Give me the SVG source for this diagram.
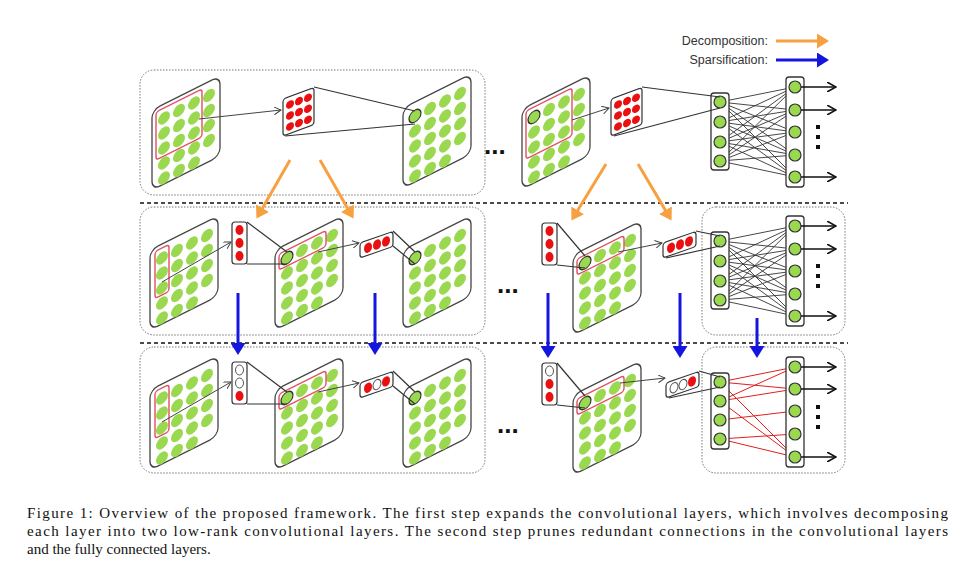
<svg xmlns="http://www.w3.org/2000/svg" xmlns:xlink="http://www.w3.org/1999/xlink" width="976" height="572" viewBox="0 0 976 572">
<style>
.pl{fill:#fff;stroke:#444;stroke-width:1.3}
.g{fill:#9ad94f}
.r{fill:#e81010}
.w{fill:#fff;stroke:#555;stroke-width:1}
.k{fill:#fff;stroke:#333;stroke-width:1.2}
.ln{stroke:#333;stroke-width:1.2;fill:none}
.ar{stroke:#444;stroke-width:1;fill:none;marker-end:url(#sa)}
.rr{fill:none;stroke:#e05060;stroke-width:1.4}
.hl{fill:#9ad94f;stroke:#333;stroke-width:1.2}
.box{fill:none;stroke:#777;stroke-width:1;stroke-dasharray:1.5 1.5}
.dash{stroke:#111;stroke-width:1.3;stroke-dasharray:4 3}
.org{stroke:#f7a040;stroke-width:3;marker-end:url(#oa)}
.blu{stroke:#1515e0;stroke-width:3;marker-end:url(#ba)}
.fc{stroke:#333;stroke-width:0.9}
.fr{stroke:#e02020;stroke-width:1}
.out{stroke:#111;stroke-width:1.6;marker-end:url(#oh)}
.col{fill:#fff;stroke:#333;stroke-width:1.3}
.cap{font-family:"Liberation Serif",serif;font-size:15px;fill:#111}
.leg{font-family:"Liberation Sans",sans-serif;font-size:12.5px;fill:#333}
.dots{font-family:"Liberation Sans",sans-serif;font-size:26px;font-weight:bold;fill:#111}
</style>
<defs>
<marker id="sa" markerWidth="8" markerHeight="8" refX="7" refY="4" orient="auto" markerUnits="userSpaceOnUse"><path d="M0,0 L7,4 L0,8" fill="none" stroke="#444"/></marker>
<marker id="oa" markerWidth="5" markerHeight="5" refX="3" refY="2.5" orient="auto"><path d="M0,0 L4,2.5 L0,5 Z" fill="#f7a040"/></marker>
<marker id="ba" markerWidth="5" markerHeight="5" refX="3" refY="2.5" orient="auto"><path d="M0,0 L4,2.5 L0,5 Z" fill="#1515e0"/></marker>
<marker id="oh" markerWidth="10" markerHeight="10" refX="9" refY="5" orient="auto" markerUnits="userSpaceOnUse"><path d="M0,0 L9,5 L0,10" fill="none" stroke="#111" stroke-width="1.6"/></marker>
<g id="plane">
<rect class="pl" x="0" y="0" width="68" height="80" rx="8"/>
<g class="g">
<circle cx="12" cy="14" r="6"/><circle cx="27" cy="14" r="6"/><circle cx="42" cy="14" r="6"/><circle cx="57" cy="14" r="6"/>
<circle cx="12" cy="29" r="6"/><circle cx="27" cy="29" r="6"/><circle cx="42" cy="29" r="6"/><circle cx="57" cy="29" r="6"/>
<circle cx="12" cy="44" r="6"/><circle cx="27" cy="44" r="6"/><circle cx="42" cy="44" r="6"/><circle cx="57" cy="44" r="6"/>
<circle cx="12" cy="59" r="6"/><circle cx="27" cy="59" r="6"/><circle cx="42" cy="59" r="6"/><circle cx="57" cy="59" r="6"/>
<circle cx="12" cy="74" r="6"/><circle cx="27" cy="74" r="6"/><circle cx="42" cy="74" r="6"/>
</g>
</g>
<g id="k33">
<rect class="k" x="0" y="0" width="31" height="37" rx="3"/>
<g class="r"><circle cx="7" cy="8" r="4"/><circle cx="16" cy="8" r="4"/><circle cx="25" cy="8" r="4"/>
<circle cx="7" cy="19" r="4"/><circle cx="16" cy="19" r="4"/><circle cx="25" cy="19" r="4"/>
<circle cx="7" cy="30" r="4"/><circle cx="16" cy="30" r="4"/><circle cx="25" cy="30" r="4"/></g>
</g>
</defs>

<g id="legend">
<text class="leg" x="768" y="45" text-anchor="end">Decomposition:</text>
<line class="org" x1="776" y1="41" x2="826" y2="41"/>
<text class="leg" x="768" y="64" text-anchor="end">Sparsification:</text>
<line class="blu" x1="776" y1="60" x2="826" y2="60"/>
</g>

<g id="frames">
<rect class="box" x="140" y="70" width="345" height="125" rx="14"/>
<rect class="box" x="140" y="207" width="345" height="128" rx="14"/>
<rect class="box" x="702" y="207" width="143" height="128" rx="14"/>
<rect class="box" x="140" y="347" width="345" height="126" rx="14"/>
<rect class="box" x="702" y="347" width="143" height="126" rx="14"/>
<line class="dash" x1="140" y1="203" x2="848" y2="203"/>
<line class="dash" x1="140" y1="343" x2="848" y2="343"/>
</g>

<g id="top-plane1"><g transform="matrix(1,-0.5,0,1,152,110)"><use href="#plane"/><rect class="rr" x="4" y="4" width="46" height="48" rx="3"/></g></g>
<g id="top-kernel"><g transform="matrix(1,-0.37,0,1,283,99)"><use href="#k33"/></g></g>
<g id="top-plane2"><g transform="matrix(1,-0.5,0,1,403,108)"><use href="#plane"/><circle class="hl" cx="12" cy="14" r="6"/></g></g>
<g id="top-plane3"><g transform="matrix(1,-0.5,0,1,522,109)"><use href="#plane"/><rect class="rr" x="4" y="4" width="46" height="48" rx="3"/><circle class="hl" cx="12" cy="14" r="6"/></g></g>
<g id="top-kernel2"><g transform="matrix(1,-0.37,0,1,611,99)"><use href="#k33"/></g></g>
<g id="top-fc">
<g class="fc">
<line x1="720" y1="102" x2="795" y2="87"/><line x1="720" y1="102" x2="795" y2="110"/><line x1="720" y1="102" x2="795" y2="132"/><line x1="720" y1="102" x2="795" y2="155"/><line x1="720" y1="102" x2="795" y2="177"/>
<line x1="720" y1="122" x2="795" y2="87"/><line x1="720" y1="122" x2="795" y2="110"/><line x1="720" y1="122" x2="795" y2="132"/><line x1="720" y1="122" x2="795" y2="155"/><line x1="720" y1="122" x2="795" y2="177"/>
<line x1="720" y1="142" x2="795" y2="87"/><line x1="720" y1="142" x2="795" y2="110"/><line x1="720" y1="142" x2="795" y2="132"/><line x1="720" y1="142" x2="795" y2="155"/><line x1="720" y1="142" x2="795" y2="177"/>
<line x1="720" y1="161" x2="795" y2="87"/><line x1="720" y1="161" x2="795" y2="110"/><line x1="720" y1="161" x2="795" y2="132"/><line x1="720" y1="161" x2="795" y2="155"/><line x1="720" y1="161" x2="795" y2="177"/>
</g>
<rect class="col" x="711" y="93" width="18" height="77" rx="3"/>
<g class="hl"><circle cx="720" cy="102" r="6"/><circle cx="720" cy="122" r="6"/><circle cx="720" cy="142" r="6"/><circle cx="720" cy="161" r="6"/></g>
<rect class="col" x="786" y="77" width="18" height="110" rx="3"/>
<g class="hl"><circle cx="795" cy="87" r="6"/><circle cx="795" cy="110" r="6"/><circle cx="795" cy="132" r="6"/><circle cx="795" cy="155" r="6"/><circle cx="795" cy="177" r="6"/></g>
</g>

<g id="mid-plane1"><g transform="matrix(1,-0.5,0,1,150,250)"><use href="#plane"/><rect class="rr" x="5" y="4" width="14" height="47" rx="3"/></g></g>
<g id="mid-k1"><rect class="k" x="232" y="222" width="15" height="42" rx="3"/><g class="r"><ellipse cx="239.5" cy="230" rx="4" ry="5"/><ellipse cx="239.5" cy="243" rx="4" ry="5"/><ellipse cx="239.5" cy="256" rx="4" ry="5"/></g></g>
<g id="mid-plane2"><g transform="matrix(1,-0.5,0,1,275,250)"><use href="#plane"/><rect class="rr" x="4" y="6" width="47" height="16" rx="3"/><circle class="hl" cx="12" cy="14" r="6"/></g></g>
<g id="mid-k2"><g transform="matrix(1,-0.35,0,1,360,243)"><rect class="k" x="0" y="0" width="33" height="15" rx="3"/><g class="r"><ellipse cx="8" cy="7.5" rx="4" ry="5"/><ellipse cx="17" cy="7.5" rx="4" ry="5"/><ellipse cx="26" cy="7.5" rx="4" ry="5"/></g></g></g>
<g id="mid-plane3"><g transform="matrix(1,-0.5,0,1,403,250)"><use href="#plane"/><circle class="hl" cx="12" cy="14" r="6"/></g></g>
<g id="mid-k3"><rect class="k" x="542" y="223" width="15" height="42" rx="3"/><g class="r"><ellipse cx="549.5" cy="231" rx="4" ry="5"/><ellipse cx="549.5" cy="244" rx="4" ry="5"/><ellipse cx="549.5" cy="257" rx="4" ry="5"/></g></g>
<g id="mid-plane4"><g transform="matrix(1,-0.5,0,1,573,255)"><use href="#plane"/><rect class="rr" x="4" y="6" width="47" height="16" rx="3"/><circle class="hl" cx="12" cy="14" r="6"/></g></g>
<g id="mid-k4"><g transform="matrix(1,-0.35,0,1,663,243)"><rect class="k" x="0" y="0" width="33" height="15" rx="3"/><g class="r"><ellipse cx="8" cy="7.5" rx="4" ry="5"/><ellipse cx="17" cy="7.5" rx="4" ry="5"/><ellipse cx="26" cy="7.5" rx="4" ry="5"/></g></g></g>
<g id="mid-fc">
<g class="fc">
<line x1="720" y1="241" x2="795" y2="226"/><line x1="720" y1="241" x2="795" y2="249"/><line x1="720" y1="241" x2="795" y2="271"/><line x1="720" y1="241" x2="795" y2="294"/><line x1="720" y1="241" x2="795" y2="316"/>
<line x1="720" y1="261" x2="795" y2="226"/><line x1="720" y1="261" x2="795" y2="249"/><line x1="720" y1="261" x2="795" y2="271"/><line x1="720" y1="261" x2="795" y2="294"/><line x1="720" y1="261" x2="795" y2="316"/>
<line x1="720" y1="281" x2="795" y2="226"/><line x1="720" y1="281" x2="795" y2="249"/><line x1="720" y1="281" x2="795" y2="271"/><line x1="720" y1="281" x2="795" y2="294"/><line x1="720" y1="281" x2="795" y2="316"/>
<line x1="720" y1="300" x2="795" y2="226"/><line x1="720" y1="300" x2="795" y2="249"/><line x1="720" y1="300" x2="795" y2="271"/><line x1="720" y1="300" x2="795" y2="294"/><line x1="720" y1="300" x2="795" y2="316"/>
</g>
<rect class="col" x="711" y="232" width="18" height="77" rx="3"/>
<g class="hl"><circle cx="720" cy="241" r="6"/><circle cx="720" cy="261" r="6"/><circle cx="720" cy="281" r="6"/><circle cx="720" cy="300" r="6"/></g>
<rect class="col" x="786" y="216" width="18" height="110" rx="3"/>
<g class="hl"><circle cx="795" cy="226" r="6"/><circle cx="795" cy="249" r="6"/><circle cx="795" cy="271" r="6"/><circle cx="795" cy="294" r="6"/><circle cx="795" cy="316" r="6"/></g>
</g>

<g id="bot-plane1"><g transform="matrix(1,-0.5,0,1,150,390)"><use href="#plane"/><rect class="rr" x="5" y="4" width="14" height="47" rx="3"/></g></g>
<g id="bot-k1"><rect class="k" x="232" y="362" width="15" height="42" rx="3"/><ellipse class="w" cx="239.5" cy="370" rx="4" ry="5"/><ellipse class="w" cx="239.5" cy="383" rx="4" ry="5"/><ellipse class="r" cx="239.5" cy="396" rx="4" ry="5"/></g>
<g id="bot-plane2"><g transform="matrix(1,-0.5,0,1,275,390)"><use href="#plane"/><rect class="rr" x="4" y="6" width="47" height="16" rx="3"/><circle class="hl" cx="12" cy="14" r="6"/></g></g>
<g id="bot-k2"><g transform="matrix(1,-0.35,0,1,360,383)"><rect class="k" x="0" y="0" width="33" height="15" rx="3"/><ellipse class="r" cx="8" cy="7.5" rx="4" ry="5"/><ellipse class="w" cx="17" cy="7.5" rx="4" ry="5"/><ellipse class="r" cx="26" cy="7.5" rx="4" ry="5"/></g></g>
<g id="bot-plane3"><g transform="matrix(1,-0.5,0,1,403,390)"><use href="#plane"/><circle class="hl" cx="12" cy="14" r="6"/></g></g>
<g id="bot-k3"><rect class="k" x="542" y="363" width="15" height="42" rx="3"/><ellipse class="w" cx="549.5" cy="371" rx="4" ry="5"/><ellipse class="r" cx="549.5" cy="384" rx="4" ry="5"/><ellipse class="r" cx="549.5" cy="397" rx="4" ry="5"/></g>
<g id="bot-plane4"><g transform="matrix(1,-0.5,0,1,573,395)"><use href="#plane"/><rect class="rr" x="4" y="6" width="47" height="16" rx="3"/><circle class="hl" cx="12" cy="14" r="6"/></g></g>
<g id="bot-k4"><g transform="matrix(1,-0.35,0,1,666,383)"><rect class="k" x="0" y="0" width="33" height="15" rx="3"/><ellipse class="w" cx="8" cy="7.5" rx="4" ry="5"/><ellipse class="w" cx="17" cy="7.5" rx="4" ry="5"/><ellipse class="r" cx="26" cy="7.5" rx="4" ry="5"/></g></g>
<g id="bot-fc">
<g class="fr">
<line x1="720" y1="382" x2="795" y2="367"/><line x1="720" y1="382" x2="795" y2="389"/><line x1="720" y1="382" x2="795" y2="457"/>
<line x1="720" y1="401" x2="795" y2="389"/><line x1="720" y1="401" x2="795" y2="367"/><line x1="720" y1="401" x2="795" y2="457"/>
<line x1="720" y1="420" x2="795" y2="411"/><line x1="720" y1="439" x2="795" y2="434"/><line x1="720" y1="439" x2="795" y2="457"/>
</g>
<rect class="col" x="711" y="373" width="18" height="76" rx="3"/>
<g class="hl"><circle cx="720" cy="382" r="6"/><circle cx="720" cy="401" r="6"/><circle cx="720" cy="420" r="6"/><circle cx="720" cy="439" r="6"/></g>
<rect class="col" x="786" y="357" width="18" height="110" rx="3"/>
<g class="hl"><circle cx="795" cy="367" r="6"/><circle cx="795" cy="389" r="6"/><circle cx="795" cy="411" r="6"/><circle cx="795" cy="434" r="6"/><circle cx="795" cy="457" r="6"/></g>
</g>

<g id="connectors">
<line class="ar" x1="199" y1="119" x2="281" y2="110"/>
<line class="ln" x1="314" y1="87" x2="415" y2="111"/>
<line class="ln" x1="285" y1="136" x2="415" y2="124"/>
<line class="ar" x1="572" y1="120" x2="609" y2="108"/>
<line class="ln" x1="642" y1="87" x2="720" y2="97"/>
<line class="ln" x1="614" y1="136" x2="720" y2="108"/>
<line class="out" x1="801" y1="87" x2="836" y2="87"/><line class="out" x1="801" y1="110" x2="836" y2="110"/><line class="out" x1="801" y1="177" x2="836" y2="177"/>

<line class="ar" x1="162" y1="282" x2="231" y2="242"/>
<line class="ln" x1="247" y1="222" x2="287" y2="252"/>
<line class="ln" x1="247" y1="264" x2="287" y2="264"/>
<line class="ar" x1="318" y1="252" x2="359" y2="243"/>
<line class="ln" x1="393" y1="231" x2="415" y2="252"/>
<line class="ln" x1="393" y1="246" x2="415" y2="264"/>
<line class="ln" x1="557" y1="223" x2="585" y2="256"/>
<line class="ln" x1="557" y1="265" x2="585" y2="268"/>
<line class="ar" x1="618" y1="252" x2="662" y2="243"/>
<line class="ln" x1="696" y1="231" x2="720" y2="236"/>
<line class="ln" x1="666" y1="258" x2="720" y2="246"/>
<line class="out" x1="801" y1="226" x2="836" y2="226"/><line class="out" x1="801" y1="249" x2="836" y2="249"/><line class="out" x1="801" y1="316" x2="836" y2="316"/>

<line class="ar" x1="162" y1="422" x2="231" y2="382"/>
<line class="ln" x1="247" y1="362" x2="287" y2="392"/>
<line class="ln" x1="247" y1="404" x2="287" y2="404"/>
<line class="ar" x1="318" y1="392" x2="359" y2="383"/>
<line class="ln" x1="393" y1="371" x2="415" y2="392"/>
<line class="ln" x1="393" y1="386" x2="415" y2="404"/>
<line class="ln" x1="557" y1="363" x2="585" y2="396"/>
<line class="ln" x1="557" y1="405" x2="585" y2="408"/>
<line class="ar" x1="620" y1="383" x2="665" y2="378"/>
<line class="ln" x1="699" y1="371" x2="720" y2="377"/>
<line class="ln" x1="669" y1="398" x2="720" y2="387"/>
<line class="out" x1="801" y1="367" x2="836" y2="367"/><line class="out" x1="801" y1="389" x2="836" y2="389"/><line class="out" x1="801" y1="457" x2="836" y2="457"/>

<line class="org" x1="290" y1="160" x2="258" y2="216"/>
<line class="org" x1="320" y1="160" x2="352" y2="216"/>
<line class="org" x1="606" y1="164" x2="573" y2="218"/>
<line class="org" x1="638" y1="164" x2="670" y2="218"/>
<line class="blu" x1="238" y1="293" x2="238" y2="352"/>
<line class="blu" x1="375" y1="293" x2="375" y2="352"/>
<line class="blu" x1="548" y1="293" x2="548" y2="355"/>
<line class="blu" x1="680" y1="293" x2="680" y2="355"/>
<line class="blu" x1="757" y1="318" x2="757" y2="355"/>
</g>

<g id="ellipses">
<text class="dots" x="484" y="154">...</text>
<text class="dots" x="497" y="293">...</text>
<text class="dots" x="497" y="433">...</text>
<g fill="#111"><rect x="816" y="125" width="4" height="4"/><rect x="816" y="135" width="4" height="4"/><rect x="816" y="145" width="4" height="4"/>
<rect x="816" y="264" width="4" height="4"/><rect x="816" y="274" width="4" height="4"/><rect x="816" y="284" width="4" height="4"/>
<rect x="816" y="405" width="4" height="4"/><rect x="816" y="415" width="4" height="4"/><rect x="816" y="425" width="4" height="4"/></g>
</g>

<g id="caption">
<text class="cap" x="27" y="518" textLength="921" lengthAdjust="spacing">Figure 1: Overview of the proposed framework. The first step expands the convolutional layers, which involves decomposing</text>
<text class="cap" x="27" y="536" textLength="921" lengthAdjust="spacing">each layer into two low-rank convolutional layers. The second step prunes redundant connections in the convolutional layers</text>
<text class="cap" x="27" y="554">and the fully connected layers.</text>
</g>
</svg>
